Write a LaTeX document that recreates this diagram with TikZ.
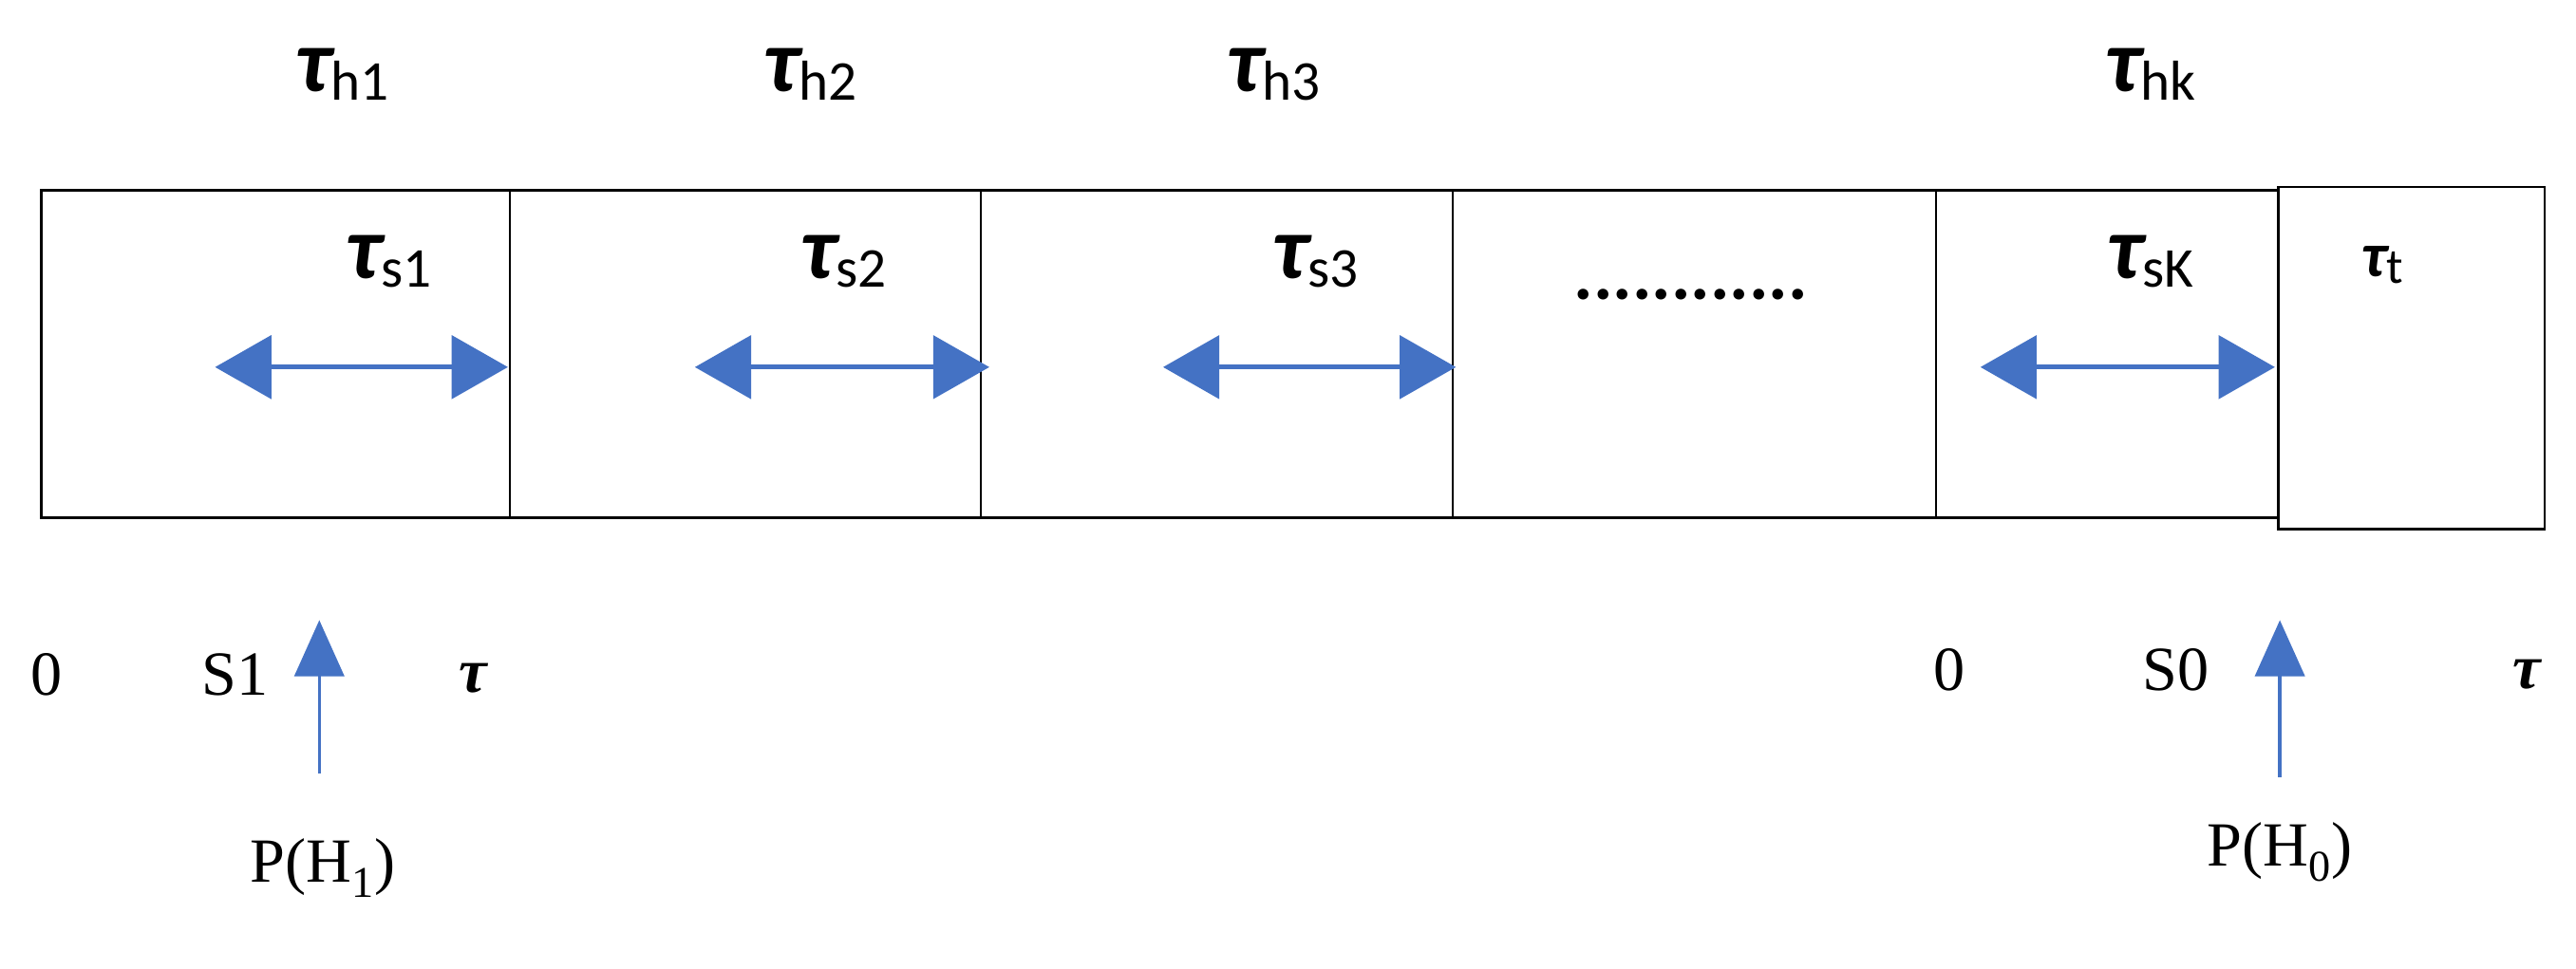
\documentclass[tikz,border=0pt]{standalone}
\usepackage{fontspec}
\setmainfont{Carlito}
\newfontfamily\seriff{Liberation Serif}
\usetikzlibrary{arrows.meta}
\definecolor{ablue}{HTML}{4472C4}
\begin{document}
\begin{tikzpicture}[x=1pt,y=-1pt,
 lab/.style={inner sep=0pt,font=\fontsize{34}{38}\selectfont},
 sl/.style={inner sep=0pt,font=\seriff\fontsize{38}{42}\selectfont},
 box/.style={draw,line width=1.6pt},
 dbl/.style={draw=ablue,line width=3pt,{Triangle[length=34pt,width=38pt]}-{Triangle[length=34pt,width=38pt]}},
 up/.style={draw=ablue,line width=2pt,-{Triangle[length=34pt,width=30pt]}}]
\newcommand{\tauT}[1]{{\fontsize{54}{58}\selectfont\bfseries\itshape τ}\raisebox{-5pt}{#1}}
\useasboundingbox (0,0) rectangle (1557,585.6);
\draw[box] (25,115) rectangle (1377,313);
\foreach \x in {308,593,878,1170} \draw[line width=1.2pt] (\x,115) -- (\x,313);
\draw[box] (1377,113) rectangle (1538,320);
\node[lab] (h1) at (207,45) {\tauT{h1}};
\node[lab] (h2) at (490,45) {\tauT{h2}};
\node[lab] (h3) at (770,45) {\tauT{h3}};
\node[lab] (hk) at (1300,45) {\tauT{hk}};
\node[lab] (s1) at (235,158) {\tauT{s1}};
\node[lab] (s2) at (510,158) {\tauT{s2}};
\node[lab] (s3) at (795,158) {\tauT{s3}};
\node[lab] (sk) at (1300,158) {\tauT{sK}};
\node[lab] (dots) at (1022,178) {{\bfseries\fontsize{44}{48}\selectfont ............}};
\node[lab,font=\fontsize{30}{34}\selectfont] (tt) at (1440,160) {{\bfseries\itshape\fontsize{38}{40}\selectfont τ}\raisebox{-4pt}{t}};
\foreach \n/\a/\b in {1/130/307,2/420/598,3/703/880,4/1197/1375}{
 \coordinate (a\n) at (\a,222); \coordinate (b\n) at (\b,222);
 \draw[dbl] (a\n) -- (b\n);}
\node[sl] (z1) at (28,408) {0};
\node[sl] (S1) at (142,408) {S1};
\node[sl,font=\seriff\bfseries\itshape\fontsize{38}{42}\selectfont] (t1) at (286,410) {τ};
\node[sl] (P1) at (195,525) {P(H\textsubscript{1})};
\coordinate (u1) at (193,468); \coordinate (v1) at (193,375);
\draw[up] (u1) -- (v1);
\node[sl] (z2) at (1178,405) {0};
\node[sl] (S0) at (1315,405) {S0};
\node[sl,font=\seriff\bfseries\itshape\fontsize{38}{42}\selectfont] (t2) at (1527,408) {τ};
\node[sl] (P0) at (1378,515) {P(H\textsubscript{0})};
\coordinate (u2) at (1378,470); \coordinate (v2) at (1378,375);
\draw[up] (u2) -- (v2);
\end{tikzpicture}
\end{document}
